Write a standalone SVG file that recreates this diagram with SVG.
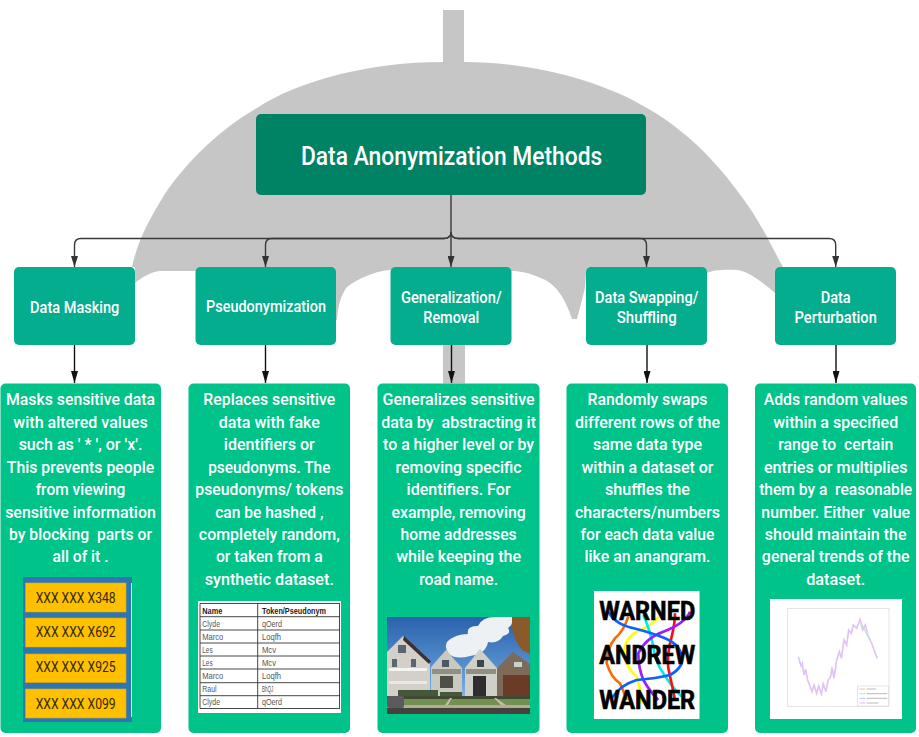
<svg xmlns="http://www.w3.org/2000/svg" width="919" height="737" viewBox="0 0 919 737">
<defs>
<marker id="ah" markerWidth="11" markerHeight="7" refX="11" refY="3.500" orient="auto" markerUnits="userSpaceOnUse" viewBox="0 0 11 7"><path d="M0 0L11 3.500L0 7z" fill="#333"/></marker>
<marker id="ab" markerWidth="12" markerHeight="7" refX="12" refY="3.500" orient="auto" markerUnits="userSpaceOnUse" viewBox="0 0 12 7"><path d="M0 0L12 3.500L0 7z" fill="#111"/></marker>
<linearGradient id="sky" x1="0" y1="0" x2="0" y2="1"><stop offset="0" stop-color="#2a62ad"/><stop offset="0.6" stop-color="#5f97d4"/><stop offset="1" stop-color="#a9c8e8"/></linearGradient>
<filter id="soft" x="-5%" y="-5%" width="110%" height="110%"><feGaussianBlur stdDeviation="0.5"/></filter>
<filter id="soft2" x="-5%" y="-5%" width="110%" height="110%"><feGaussianBlur stdDeviation="0.8"/></filter>
</defs>
<style>
text{font-family:Roboto,"Liberation Sans",sans-serif;text-anchor:middle;white-space:pre}
.l3{fill:#00c389}.l2{fill:#04ad8d}
.t{fill:#fff;font-size:17px;font-weight:500}
.h{fill:#fff;font-size:16.400px;font-weight:500}
.c{fill:none;stroke:#3a3a3a;stroke-width:1.400}
.v{fill:none;stroke:#111;stroke-width:1.400}
.m{fill:#ffc000;stroke:#e0a800;stroke-width:.6}
.mt{fill:#332700;font-size:15.500px}
.tb{fill:#555;font-size:9px;text-anchor:start;font-family:"Liberation Sans",sans-serif}
.tbh{fill:#222;font-size:9px;text-anchor:start;font-weight:700;font-family:"Liberation Sans",sans-serif}
.tl{stroke:#333;stroke-width:.9;fill:none}
.sl{fill:none;stroke-width:8}
</style>
<path id="umbrella" fill="#c6c6c6" d="M443 10H464V62C530 62 600 80 647 108C695 135 730 178 753 213C768 237 776 255 783 267L775 293C762 282 748 271 737 270C725 269 712 270 707 273H586L585 288L577 319H572C566 300 556 284 543 279C530 273 520 271 512 271H465V383.500H443V270H390C374 271 356 280 347 287C341 295 338 305 337 320H336L195 271H160C150 272 143 277 135 283V267H132C138 240 148 222 163 197C180 170 215 132 257 108C300 80 370 62 443 62Z"/>
<g id="connectors">
<path class="c" marker-end="url(#ah)" d="M451 195V267"/>
<path class="c" marker-end="url(#ah)" d="M451 232Q451 238.500 444 238.500H81Q74.500 238.500 74.500 245V267"/>
<path class="c" marker-end="url(#ah)" d="M451 232Q451 238.500 444 238.500H272Q265.500 238.500 265.500 245V267"/>
<path class="c" marker-end="url(#ah)" d="M451 232Q451 238.500 458 238.500H640Q646.500 238.500 646.500 245V267"/>
<path class="c" marker-end="url(#ah)" d="M451 232Q451 238.500 458 238.500H829Q835.700 238.500 835.700 245V267"/>
<path class="v" marker-end="url(#ab)" d="M74.500 345V383"/>
<path class="v" marker-end="url(#ab)" d="M265.500 345V383"/>
<path class="v" marker-end="url(#ab)" d="M451.500 345V383"/>
<path class="v" marker-end="url(#ab)" d="M647 345V383"/>
<path class="v" marker-end="url(#ab)" d="M836 345V383"/>
</g>
<g id="root"><rect x="256" y="114" width="390" height="81" rx="5" fill="#008265"/><text x="451.600" y="165" fill="#fff" font-size="25" font-weight="500" textLength="301.300" lengthAdjust="spacingAndGlyphs">Data Anonymization Methods</text></g>
<g id="n-masking"><rect class="l2" x="14" y="267" width="121" height="78" rx="5"/><text class="h" x="74.700" y="313" textLength="89.300" lengthAdjust="spacingAndGlyphs">Data Masking</text></g>
<g id="n-pseudo"><rect class="l2" x="195.500" y="267" width="140.500" height="78" rx="5"/><text class="h" x="266" y="311.700" textLength="120" lengthAdjust="spacingAndGlyphs">Pseudonymization</text></g>
<g id="n-general"><rect class="l2" x="390.500" y="267" width="121" height="78" rx="5"/><text class="h" x="451.300" y="302.700" textLength="100.700" lengthAdjust="spacingAndGlyphs">Generalization/</text><text class="h" x="451.300" y="323.300" textLength="56" lengthAdjust="spacingAndGlyphs">Removal</text></g>
<g id="n-swap"><rect class="l2" x="586" y="267" width="121" height="78" rx="5"/><text class="h" x="646.700" y="302.700" textLength="103.300" lengthAdjust="spacingAndGlyphs">Data Swapping/</text><text class="h" x="646.700" y="323.300" textLength="60" lengthAdjust="spacingAndGlyphs">Shuffling</text></g>
<g id="n-perturb"><rect class="l2" x="775" y="267" width="121" height="78" rx="5"/><text class="h" x="835.700" y="302.700" textLength="30" lengthAdjust="spacingAndGlyphs">Data</text><text class="h" x="835.700" y="323.300" textLength="82.300" lengthAdjust="spacingAndGlyphs">Perturbation</text></g>

<g id="d-masking"><rect class="l3" x="0.500" y="383.500" width="160.500" height="349.500" rx="5"/>
<text class="t" x="80.500" y="405" textLength="149" lengthAdjust="spacingAndGlyphs">Masks sensitive data</text><text class="t" x="80.500" y="427.500" textLength="134.300" lengthAdjust="spacingAndGlyphs">with altered values</text><text class="t" x="80.500" y="450" textLength="123.700" lengthAdjust="spacingAndGlyphs">such as ' * ', or 'x'.</text><text class="t" x="80.500" y="472.500" textLength="147.300" lengthAdjust="spacingAndGlyphs">This prevents people</text><text class="t" x="80.500" y="495" textLength="89.700" lengthAdjust="spacingAndGlyphs">from viewing</text><text class="t" x="80.500" y="517.500" textLength="150.700" lengthAdjust="spacingAndGlyphs">sensitive information</text><text class="t" x="80.500" y="540" textLength="143" lengthAdjust="spacingAndGlyphs">by blocking  parts or</text><text class="t" x="80.500" y="562" textLength="56" lengthAdjust="spacingAndGlyphs">all of it .</text>
<rect x="23" y="577" width="109" height="145" fill="#2e75b6"/><rect x="131" y="583" width="1" height="134" fill="#cfe0f0"/>
<rect class="m" x="25.500" y="583" width="100.500" height="29"/><rect class="m" x="25.500" y="618" width="100.500" height="29"/><rect class="m" x="25.500" y="654" width="100.500" height="28.500"/><rect class="m" x="25.500" y="689" width="100.500" height="29"/>
<text class="mt" x="75.700" y="603.300" textLength="80" lengthAdjust="spacingAndGlyphs">XXX XXX X348</text><text class="mt" x="75.700" y="637.300" textLength="80" lengthAdjust="spacingAndGlyphs">XXX XXX X692</text><text class="mt" x="75.700" y="672.300" textLength="80" lengthAdjust="spacingAndGlyphs">XXX XXX X925</text><text class="mt" x="75.700" y="708.500" textLength="80" lengthAdjust="spacingAndGlyphs">XXX XXX X099</text>
</g>

<g id="d-pseudo"><rect class="l3" x="188.500" y="383.500" width="161.500" height="349.500" rx="5"/>
<text class="t" x="269.300" y="405" textLength="132" lengthAdjust="spacingAndGlyphs">Replaces sensitive</text><text class="t" x="269.300" y="427.500" textLength="101.300" lengthAdjust="spacingAndGlyphs">data with fake</text><text class="t" x="269.300" y="450" textLength="91" lengthAdjust="spacingAndGlyphs">identifiers or</text><text class="t" x="269.300" y="472.500" textLength="122.300" lengthAdjust="spacingAndGlyphs">pseudonyms. The</text><text class="t" x="269.300" y="495" textLength="148" lengthAdjust="spacingAndGlyphs">pseudonyms/ tokens</text><text class="t" x="269.300" y="517.500" textLength="108.300" lengthAdjust="spacingAndGlyphs">can be hashed ,</text><text class="t" x="269.300" y="540" textLength="141" lengthAdjust="spacingAndGlyphs">completely random,</text><text class="t" x="269.300" y="562" textLength="106.700" lengthAdjust="spacingAndGlyphs">or taken from a</text><text class="t" x="269.300" y="585" textLength="129.300" lengthAdjust="spacingAndGlyphs">synthetic dataset.</text>
<rect x="198" y="601" width="143" height="112" fill="#fff"/>
<path class="tl" d="M200 603.500H340M200 616.700H340M200 630H340M200 643H340M200 656H340M200 669H340M200 682.700H340M200 695.700H340M200 708.500H340M200 603.500V708.500M257.700 603.500V708.500M339.500 603.500V708.500"/>
<text class="tbh" x="202.300" y="614" textLength="20" lengthAdjust="spacingAndGlyphs">Name</text><text class="tbh" x="262" y="614" textLength="64" lengthAdjust="spacingAndGlyphs">Token/Pseudonym</text>
<text class="tb" x="202.300" y="626.700" textLength="17.700" lengthAdjust="spacingAndGlyphs">Clyde</text><text class="tb" x="262" y="626.700" textLength="20" lengthAdjust="spacingAndGlyphs">qOerd</text>
<text class="tb" x="202.300" y="640" textLength="21" lengthAdjust="spacingAndGlyphs">Marco</text><text class="tb" x="262" y="640" textLength="19" lengthAdjust="spacingAndGlyphs">Loqfh</text>
<text class="tb" x="202.300" y="653" textLength="10.300" lengthAdjust="spacingAndGlyphs">Les</text><text class="tb" x="262" y="653" textLength="14" lengthAdjust="spacingAndGlyphs">Mcv</text>
<text class="tb" x="202.300" y="666" textLength="10.300" lengthAdjust="spacingAndGlyphs">Les</text><text class="tb" x="262" y="666" textLength="14" lengthAdjust="spacingAndGlyphs">Mcv</text>
<text class="tb" x="202.300" y="679.300" textLength="21" lengthAdjust="spacingAndGlyphs">Marco</text><text class="tb" x="262" y="679.300" textLength="19" lengthAdjust="spacingAndGlyphs">Loqfh</text>
<text class="tb" x="202.300" y="692.300" textLength="14.300" lengthAdjust="spacingAndGlyphs">Raul</text><text class="tb" x="262" y="692.300" textLength="11.300" lengthAdjust="spacingAndGlyphs">BhQJ</text>
<text class="tb" x="202.300" y="705.300" textLength="17.700" lengthAdjust="spacingAndGlyphs">Clyde</text><text class="tb" x="262" y="705.300" textLength="20" lengthAdjust="spacingAndGlyphs">qOerd</text>
</g>

<g id="d-general"><rect class="l3" x="377.500" y="383.500" width="162" height="349.500" rx="5"/>
<text class="t" x="458.600" y="405" textLength="152" lengthAdjust="spacingAndGlyphs">Generalizes sensitive</text><text class="t" x="458.600" y="427.500" textLength="154.800" lengthAdjust="spacingAndGlyphs">data by  abstracting it</text><text class="t" x="458.600" y="450" textLength="151" lengthAdjust="spacingAndGlyphs">to a higher level or by</text><text class="t" x="458.600" y="472.500" textLength="126" lengthAdjust="spacingAndGlyphs">removing specific</text><text class="t" x="458.600" y="495" textLength="104" lengthAdjust="spacingAndGlyphs">identifiers. For</text><text class="t" x="458.600" y="517.500" textLength="134.400" lengthAdjust="spacingAndGlyphs">example, removing</text><text class="t" x="458.600" y="540" textLength="116" lengthAdjust="spacingAndGlyphs">home addresses</text><text class="t" x="458.600" y="562" textLength="124.900" lengthAdjust="spacingAndGlyphs">while keeping the</text><text class="t" x="458.600" y="585" textLength="78.800" lengthAdjust="spacingAndGlyphs">road name.</text>
<g filter="url(#soft)">
<rect x="387" y="617" width="143" height="97" fill="url(#sky)"/>
<path d="M447 642Q455 634 468 634Q466 626 478 626Q482 617 495 617H512Q514 624 508 628Q512 634 503 636Q498 644 488 642Q486 654 470 656Q456 660 449 654Q444 648 447 642Z" fill="#eef1f4"/>
<path d="M512 617H530V654L522 650Q514 640 512 628Z" fill="#8a5a2a"/>
<path d="M387 652L403 636L430 660V696H387Z" fill="#d2d0c8"/>
<path d="M404 636L431 661L429 664L403 640Z" fill="#3b3232"/>
<path d="M431 696V667L446 650L462 668V696Z" fill="#c8c9c0"/>
<path d="M465 696V668L480 649L497 668V696Z" fill="#cfd0c8"/>
<path d="M497 696V668L513 652L530 664V696Z" fill="#7d6a58"/>
<rect x="503" y="675" width="27" height="21" fill="#6a3a26"/>
<rect x="389" y="668" width="38" height="3" fill="#f3f3f0"/><rect x="389" y="681" width="38" height="3" fill="#e8e8e4"/><rect x="432" y="669" width="29" height="5" fill="#8f8f82"/><rect x="466" y="669" width="30" height="5" fill="#8f8f82"/>
<rect x="473" y="676" width="13" height="20" fill="#2e2e2e"/><rect x="440" y="676" width="13" height="12" fill="#50504a"/><rect x="398" y="645" width="8" height="8" fill="#5c6670"/><rect x="392" y="659" width="5" height="8" fill="#5c6670"/><rect x="411" y="659" width="5" height="8" fill="#5c6670"/><rect x="442" y="660" width="7" height="7" fill="#4e5a66"/><rect x="477" y="660" width="7" height="7" fill="#3e4650"/><rect x="514" y="662" width="8" height="5" fill="#c8d2d0"/>
<path d="M387 696H530V699H387Z" fill="#3f4a30"/><path d="M398 690h40v6h-40zM440 692h22v4h-22z" fill="#45583a" />
<rect x="387" y="699" width="143" height="6" fill="#6f9150"/>
<path d="M445 705L450 698H452L448 705ZM501 705L494 698H496L506 705Z" fill="#c4bda8"/>
<rect x="387" y="705" width="143" height="3" fill="#b5ab98"/>
<rect x="387" y="708" width="143" height="6" fill="#44423e"/>
<rect x="387" y="696" width="17" height="12" rx="2" fill="#5a5a5e"/>
</g></g>

<g id="d-swap"><rect class="l3" x="566.500" y="383.500" width="161.500" height="349.500" rx="5"/>
<text class="t" x="647.500" y="405" textLength="120" lengthAdjust="spacingAndGlyphs">Randomly swaps</text><text class="t" x="647.500" y="427.500" textLength="145" lengthAdjust="spacingAndGlyphs">different rows of the</text><text class="t" x="647.500" y="450" textLength="109" lengthAdjust="spacingAndGlyphs">same data type</text><text class="t" x="647.500" y="472.500" textLength="132" lengthAdjust="spacingAndGlyphs">within a dataset or</text><text class="t" x="647.500" y="495" textLength="85" lengthAdjust="spacingAndGlyphs">shuffles the</text><text class="t" x="647.500" y="517.500" textLength="145" lengthAdjust="spacingAndGlyphs">characters/numbers</text><text class="t" x="647.500" y="540" textLength="134" lengthAdjust="spacingAndGlyphs">for each data value</text><text class="t" x="647.500" y="562" textLength="126" lengthAdjust="spacingAndGlyphs">like an anangram.</text>
<rect x="594" y="591" width="105.500" height="128" fill="#fff"/>
<g transform="translate(370 580) scale(.33333)" filter="url(#soft)">
<path class="sl" stroke="#ff6a00" d="M775 110Q760 155 735 175Q710 205 710 250Q725 295 750 310Q762 335 770 360"/>
<path class="sl" stroke="#ffff00" d="M865 110Q850 135 800 155Q765 175 760 220Q770 265 800 290Q810 320 815 370"/>
<path class="sl" stroke="#00e8f0" d="M820 105Q840 150 850 200Q855 245 880 280Q905 320 935 350"/>
<path class="sl" stroke="#ff1010" d="M915 100Q915 130 905 170Q890 225 895 265Q905 310 915 360"/>
<path class="sl" stroke="#9a1cff" d="M960 95Q945 130 880 155Q825 175 805 220Q805 265 820 300Q840 335 865 360"/>
<path class="sl" stroke="#0a60ff" d="M715 95Q735 135 800 147Q850 160 885 175Q925 190 935 225Q945 260 900 285Q860 295 800 300Q750 315 725 355"/>
</g>
<g font-weight="700" font-size="25" fill="#000" stroke="#000" stroke-width=".6"><text x="647.200" y="620" textLength="96" lengthAdjust="spacingAndGlyphs">WARNED</text><text x="647.200" y="664" textLength="96" lengthAdjust="spacingAndGlyphs">ANDREW</text><text x="647.200" y="709" textLength="96" lengthAdjust="spacingAndGlyphs">WANDER</text></g>
</g>

<g id="d-perturb"><rect class="l3" x="755" y="383.500" width="161" height="349.500" rx="5"/>
<text class="t" x="835.700" y="405" textLength="144" lengthAdjust="spacingAndGlyphs">Adds random values</text><text class="t" x="835.700" y="427.500" textLength="125" lengthAdjust="spacingAndGlyphs">within a specified</text><text class="t" x="835.700" y="450" textLength="115" lengthAdjust="spacingAndGlyphs">range to  certain</text><text class="t" x="835.700" y="472.500" textLength="143.500" lengthAdjust="spacingAndGlyphs">entries or multiplies</text><text class="t" x="835.700" y="495" style="font-size:16px" textLength="153" lengthAdjust="spacingAndGlyphs">them by a  reasonable</text><text class="t" x="835.700" y="517.500" textLength="148.800" lengthAdjust="spacingAndGlyphs">number. Either  value</text><text class="t" x="835.700" y="540" textLength="141.800" lengthAdjust="spacingAndGlyphs">should maintain the</text><text class="t" x="835.700" y="562" textLength="147.700" lengthAdjust="spacingAndGlyphs">general trends of the</text><text class="t" x="835.700" y="585" textLength="59" lengthAdjust="spacingAndGlyphs">dataset.</text>
<rect x="770" y="599" width="132" height="120" fill="#fff"/>
<g transform="translate(740 580) scale(.33333)" filter="url(#soft2)">
<rect x="142" y="85" width="305" height="295" fill="none" stroke="#d8d8d8" stroke-width="2"/>
<path fill="none" stroke="#e0c4f4" stroke-width="5" d="M175 230L183 258L187 250L192 285L197 268L203 300L210 318L216 335L222 315L230 340L236 318L244 342L250 312L258 335L264 300L272 290L276 262L282 295L290 240L298 215L304 235L312 180L320 195L326 150L334 160L340 135L350 145L360 118L368 150L376 135L385 170L395 190L402 210L412 235"/>
<path fill="none" stroke="#a8e8c0" stroke-width="3" d="M365 130L378 160L392 180"/>
<rect x="353" y="318" width="92" height="60" fill="#fff" stroke="#d8d8d8" stroke-width="2"/>
<path fill="none" stroke-width="3" stroke="#f6c0c0" d="M358 327H376"/><path fill="none" stroke-width="3" stroke="#b8eeb8" d="M358 341H376"/><path fill="none" stroke-width="3" stroke="#b8c6f6" d="M358 355H376"/><path fill="none" stroke-width="3" stroke="#eab8f4" d="M358 369H376"/>
<path fill="none" stroke-width="3" stroke="#bbb" d="M380 327H408M380 341H442M380 355H442M380 369H415"/>
</g></g>
</svg>
